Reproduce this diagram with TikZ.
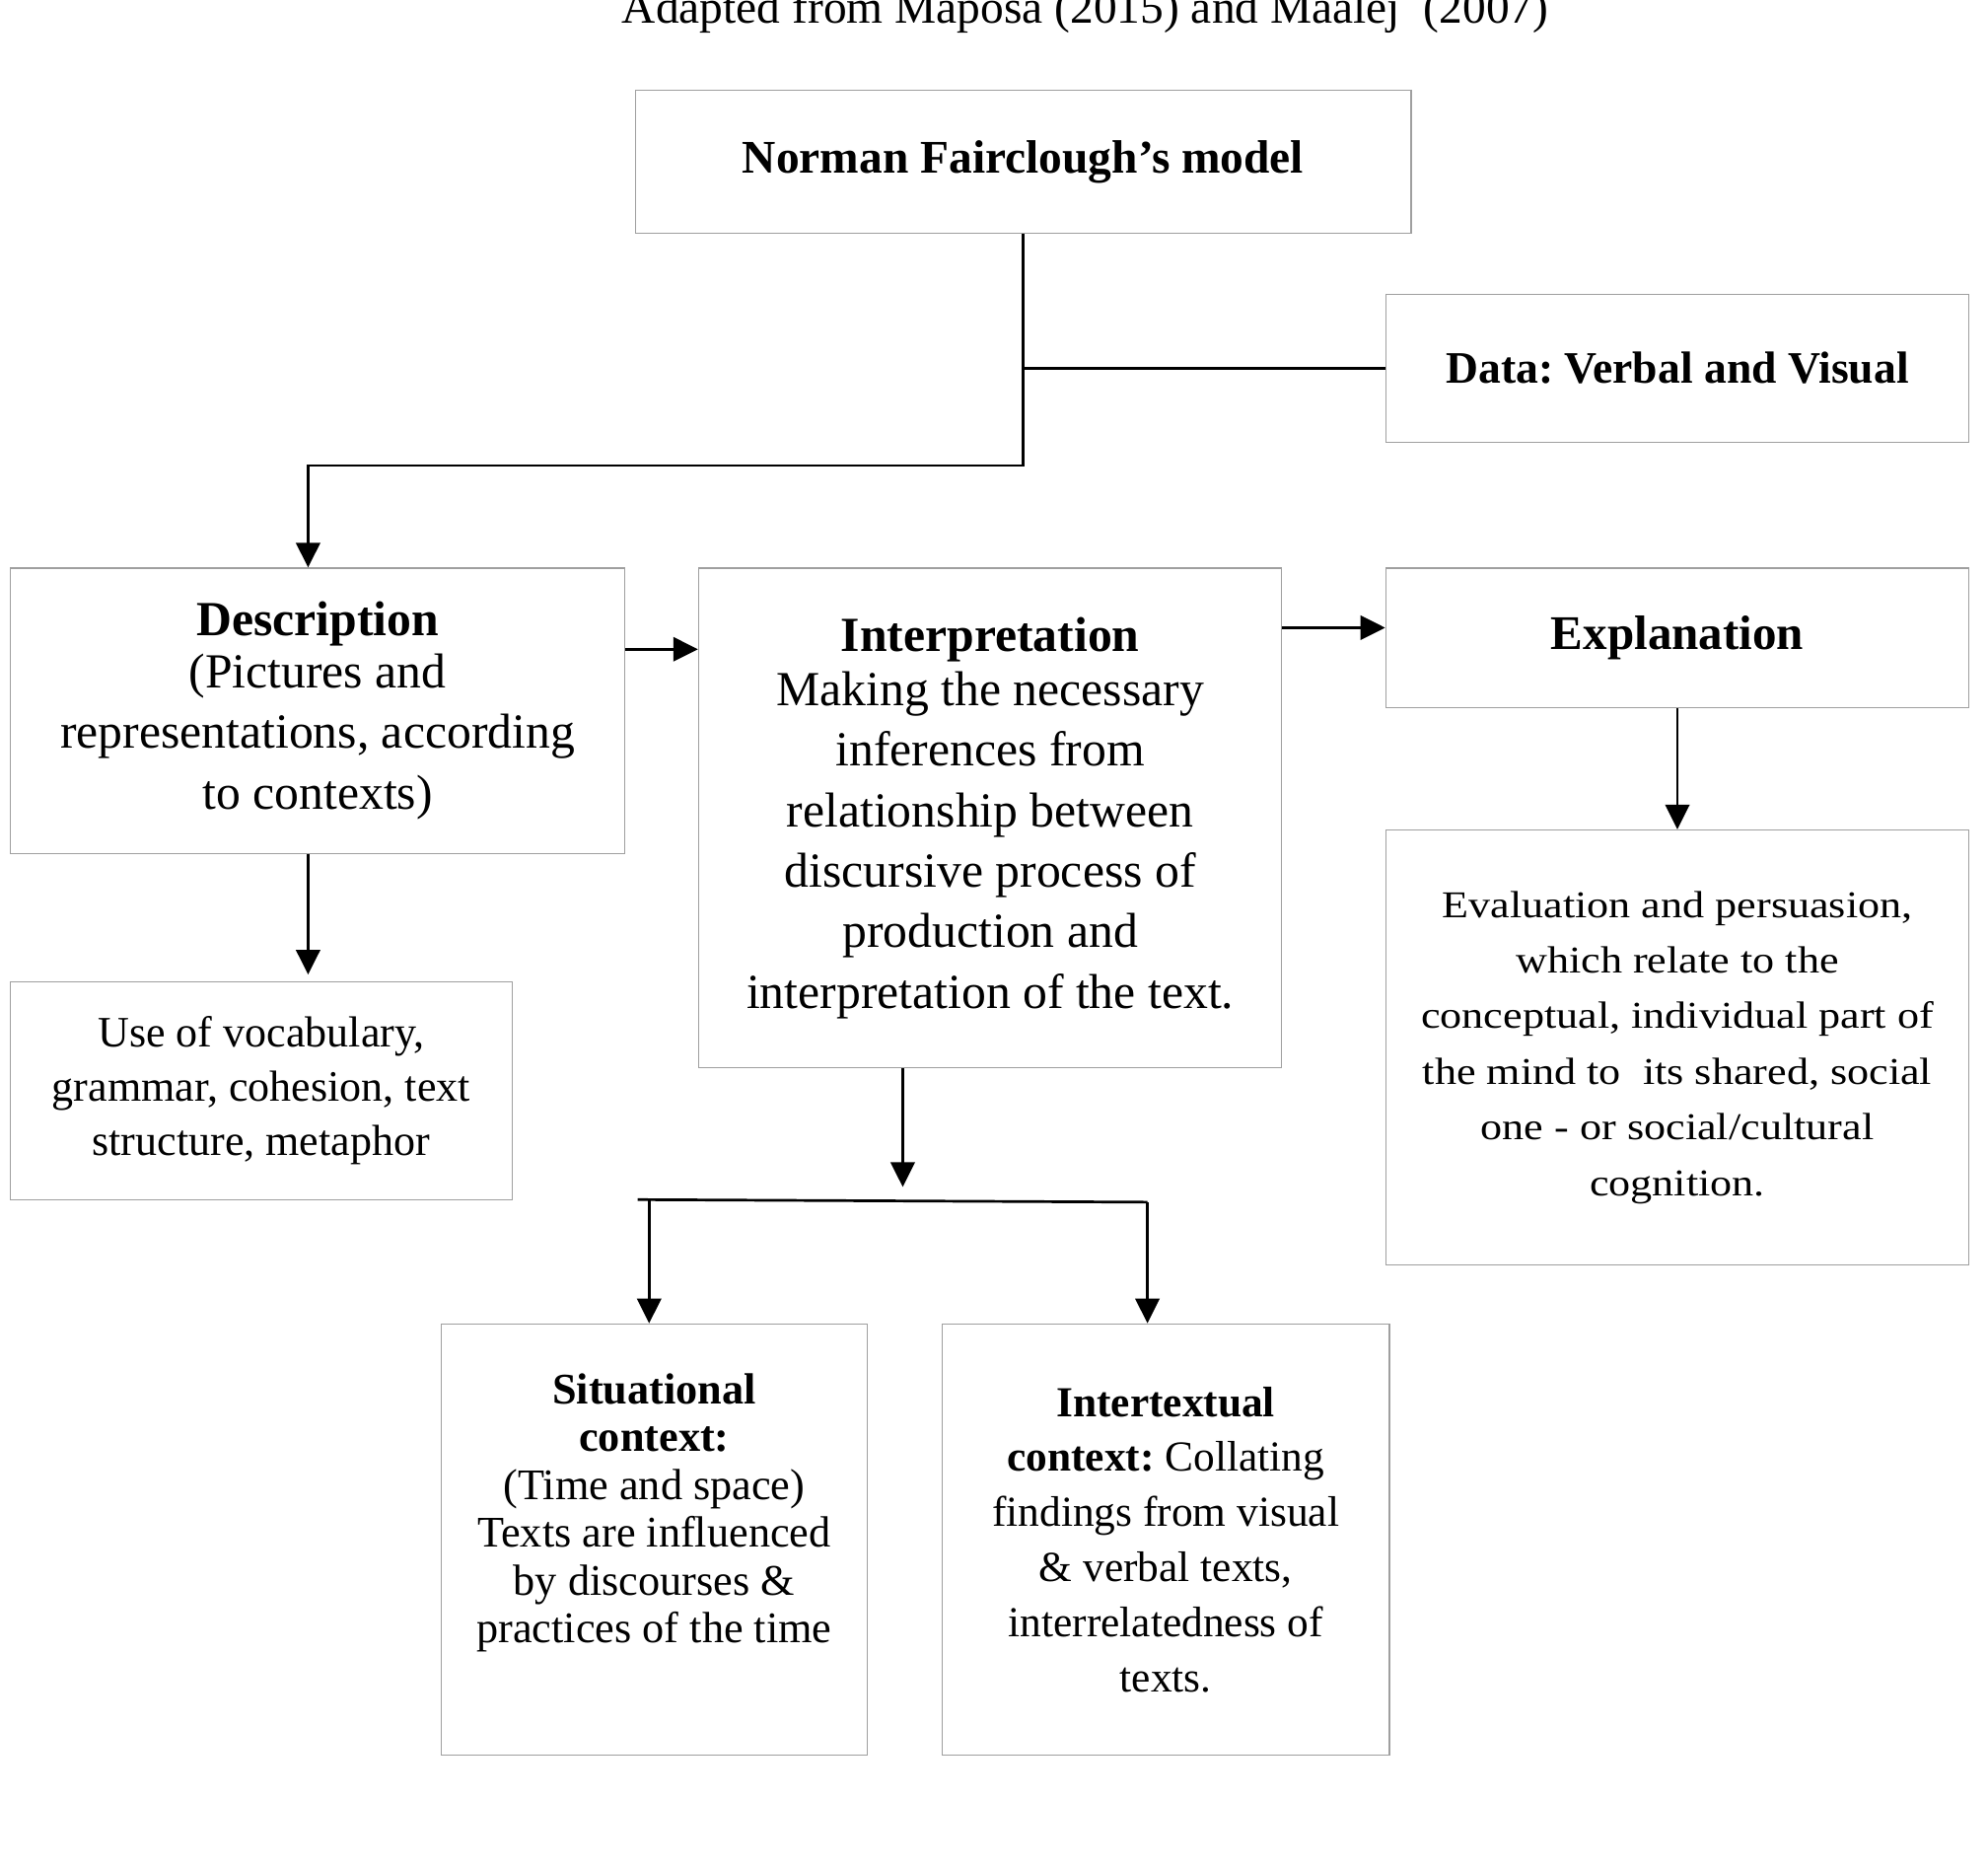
\documentclass[tikz,border=0pt]{standalone}
\usepackage{fontspec}
\setmainfont{Liberation Serif}
\newfontfamily\evalfont{Liberation Serif}[FakeStretch=1.15]
\usetikzlibrary{arrows.meta}
\frenchspacing

\tikzset{
    box/.style={draw=gray!75, line width=0.6pt, align=center, inner sep=0pt},
    link/.style={line width=1.2pt},
    arrowed/.style={link, -{Triangle[length=0.39cm, width=0.38cm]}},
}

\begin{document}
\begin{tikzpicture}[x=0.02cm, y=-0.02cm]
    \useasboundingbox (0,0) rectangle (1568,1474);
    \node[anchor=base, font=\fontsize{21}{25}\selectfont] (title) at (856,18)
        {Adapted from Maposa (2015) and Maalej\ \ (2007)};

    % top row
    \node[box, minimum width=12.24cm, minimum height=2.26cm, font=\fontsize{21}{25}\selectfont\bfseries]
        (norman) at (807,127.5) {Norman Fairclough’s model};
    \node[box, minimum width=9.2cm, minimum height=2.34cm, font=\fontsize{20.2}{24}\selectfont\bfseries]
        (data) at (1323,290.5) {Data: Verbal and Visual};

    % the three stages
    \node[box, minimum width=9.7cm, minimum height=4.5cm, font=\fontsize{22}{27.2}\selectfont]
        (desc) at (250.5,560.5)
        {\textbf{Description}\\[-4pt] (Pictures and\\ representations, according\\ to contexts)};
    \node[box, minimum width=9.2cm, minimum height=7.88cm, font=\fontsize{22}{27.2}\selectfont]
        (interp) at (781,645)
        {\textbf{Interpretation}\\[-2.8pt] Making the necessary\\ inferences from\\ relationship between\\
         discursive process of\\ production and\\ interpretation of the text.};
    \node[box, minimum width=9.2cm, minimum height=2.2cm, font=\fontsize{21.7}{26}\selectfont\bfseries]
        (expl) at (1323,503) {Explanation};

    % what each stage looks at
    \node[box, minimum width=7.92cm, minimum height=3.44cm, font=\fontsize{19.5}{24.4}\selectfont]
        (use) at (206,860) {Use of vocabulary,\\ grammar, cohesion, text\\ structure, metaphor};
    \node[box, minimum width=9.2cm, minimum height=6.86cm, font=\evalfont\fontsize{17}{25}\selectfont]
        (eval) at (1323,826)
        {Evaluation and persuasion,\\ which relate to the\\ conceptual, individual part of\\
         the mind to\ \ its shared, social\\ one - or social/cultural\\ cognition.};
    \node[box, minimum width=6.72cm, minimum height=6.8cm] (sit) at (516,1214) {};
    \node[align=center, inner sep=0pt, font=\fontsize{19.6}{21.5}\selectfont] (sit-text) at (516,1193)
        {\textbf{Situational}\\ \textbf{context:}\\ (Time and space)\\ Texts are influenced\\
         by discourses \&\\ practices of the time};
    \node[box, minimum width=7.06cm, minimum height=6.8cm, font=\fontsize{19.2}{24.7}\selectfont]
        (inter) at (919.5,1214)
        {\textbf{Intertextual}\\ \textbf{context:} Collating\\ findings from visual\\ \& verbal texts,\\
         interrelatedness of\\ texts.};

    % connectors
    \coordinate (desc-in) at ([xshift=-0.15cm]desc.north);
    \coordinate (desc-bend) at (desc-in |- 0,367);
    \coordinate (interp-out) at ([xshift=-1.38cm]interp.south);
    \coordinate (sit-in) at ([xshift=-0.08cm]sit.north);
    \coordinate (bar-l) at (503,946);
    \coordinate (bar-r) at (905,948);

    \draw[arrowed] (norman.south) |- (desc-bend) -- (desc-in);
    \draw[link] (norman.south |- data.west) -- (data.west);
    \draw[arrowed] (desc.east |- 0,512) -- (interp.west |- 0,512);
    \draw[arrowed] (interp.east |- 0,495) -- (expl.west |- 0,495);
    \draw[arrowed] (expl.south) -- (eval.north);
    \draw[arrowed, shorten >=0.1cm] (desc-in |- desc.south) -- (desc-in |- use.north);
    \draw[arrowed] (interp-out) -- (interp-out |- 0,936);
    \draw[link] (bar-l) -- (bar-r);
    \draw[arrowed] (sit-in |- bar-l) -- (sit-in);
    \draw[arrowed] (bar-r) -- (bar-r |- inter.north);
\end{tikzpicture}
\end{document}
